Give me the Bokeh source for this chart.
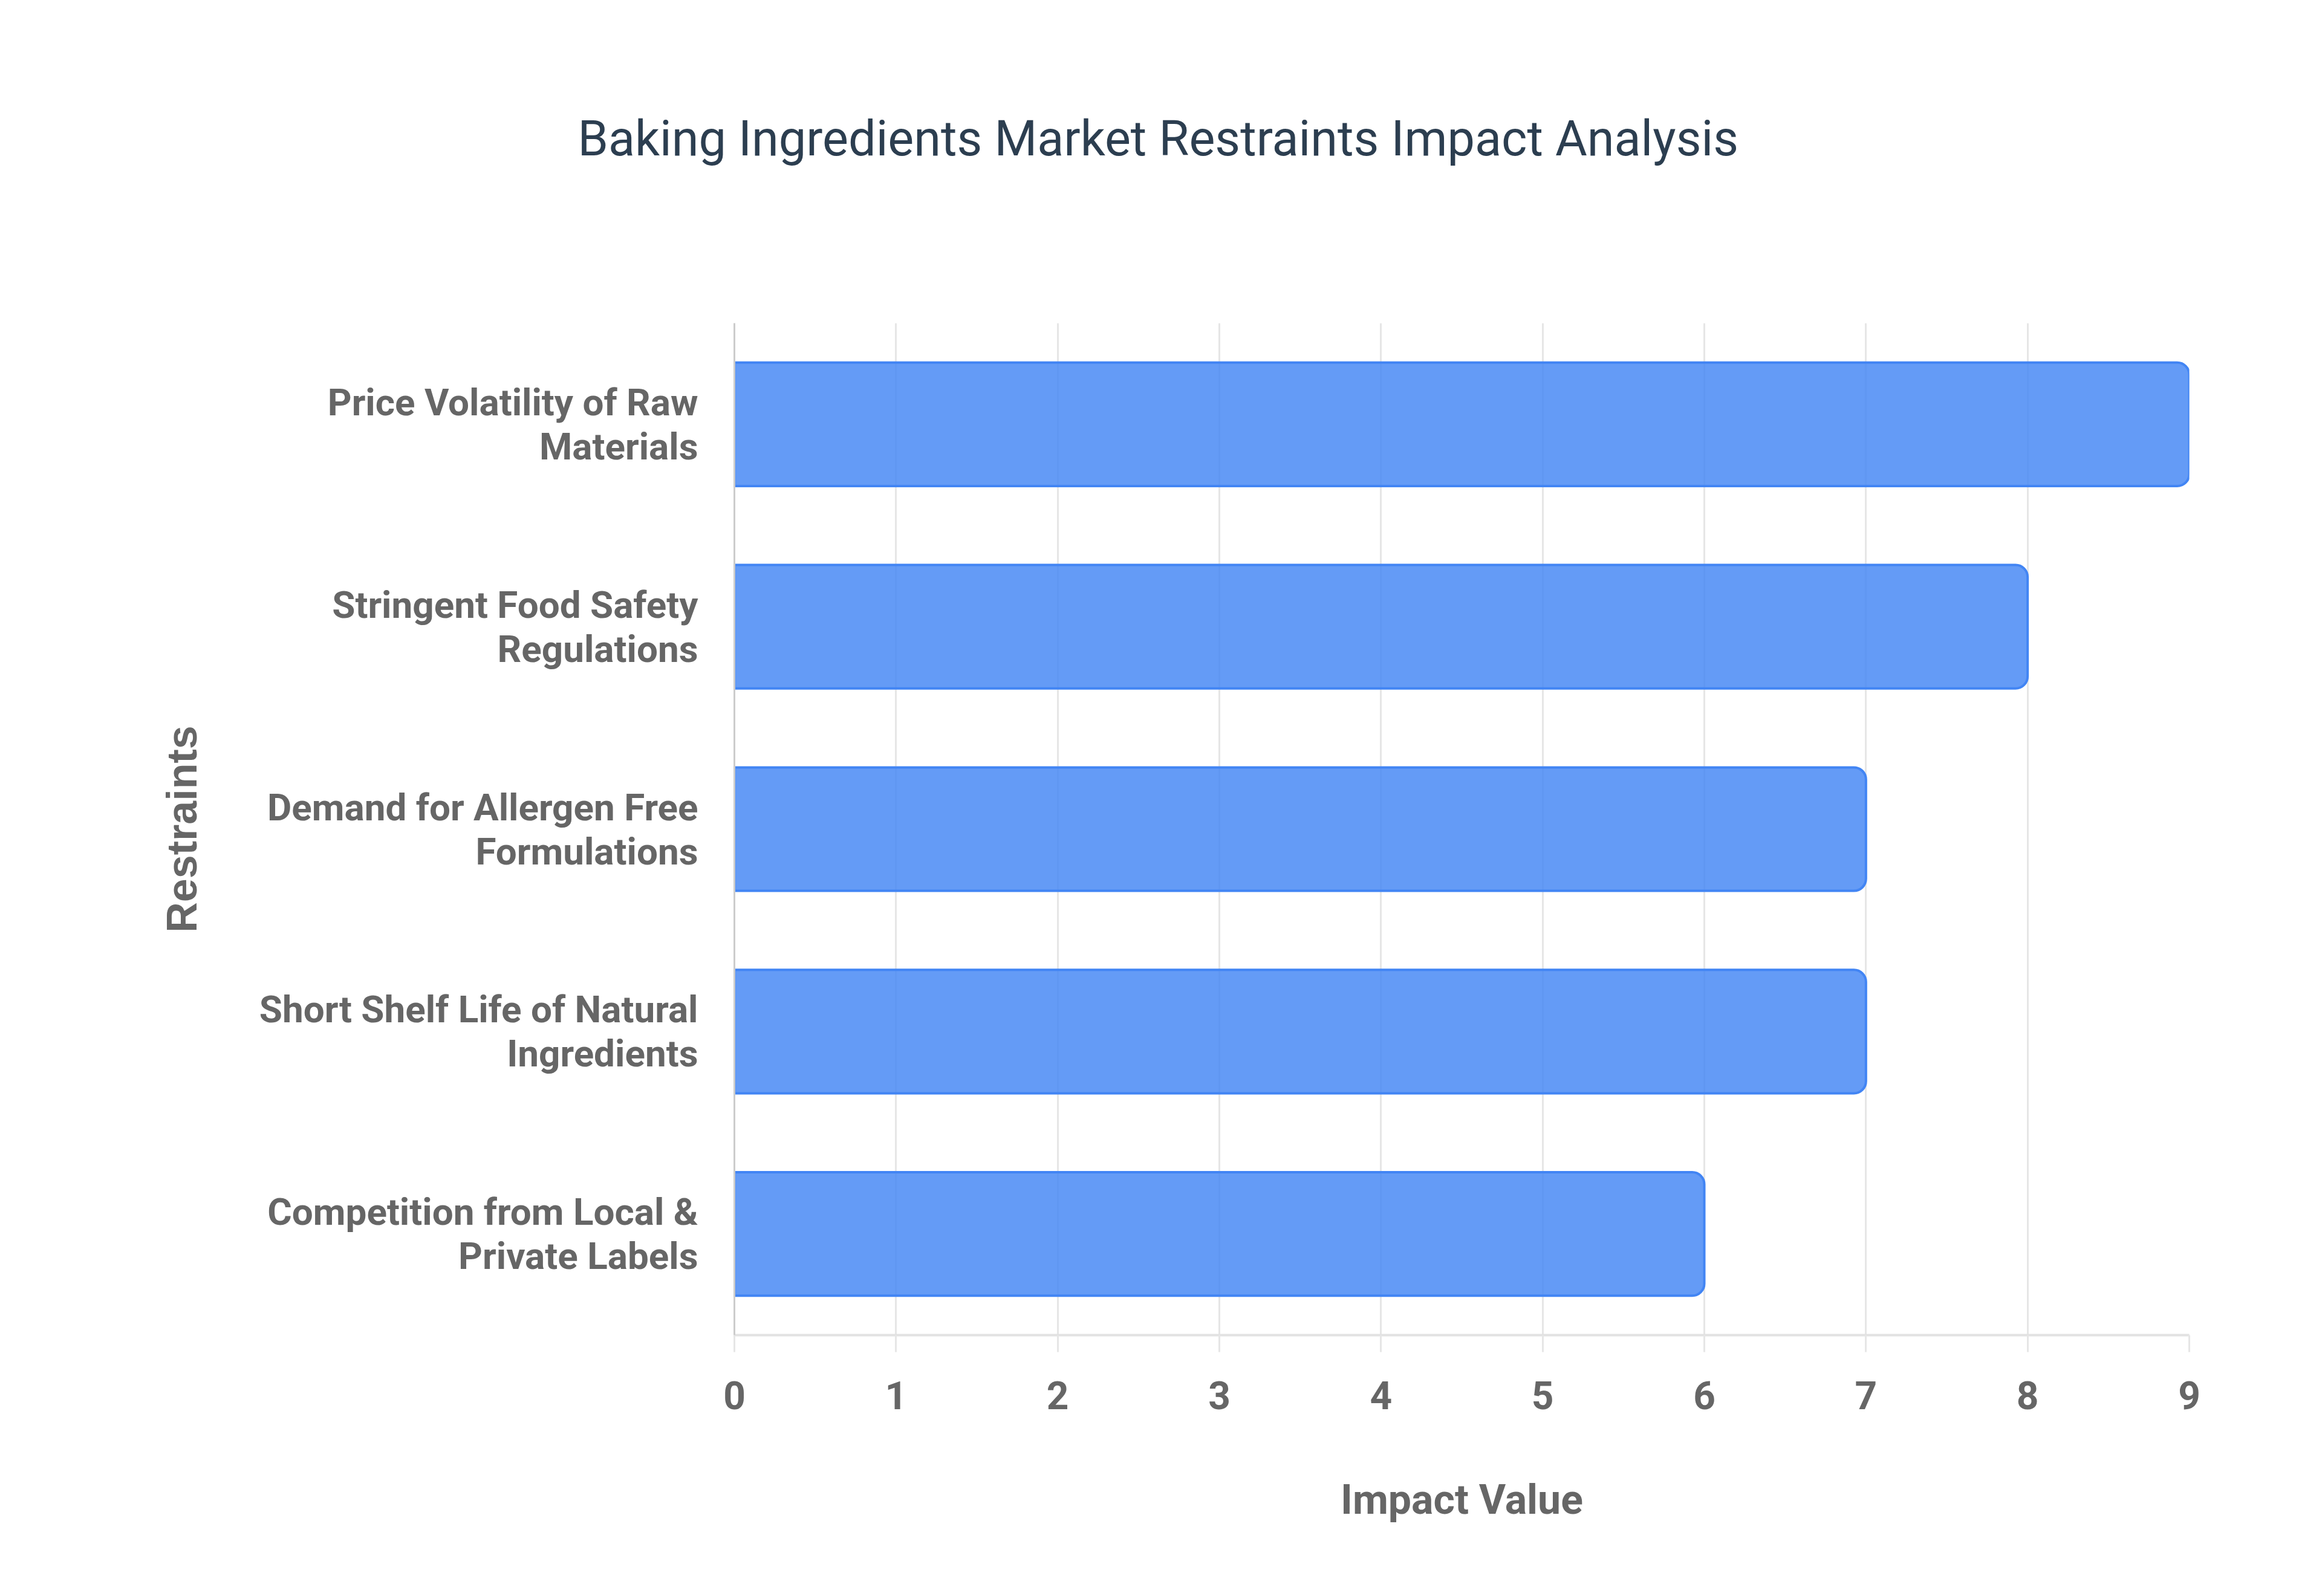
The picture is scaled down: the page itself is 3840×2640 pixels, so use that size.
from bokeh.plotting import figure
from bokeh.models import FactorRange, Range1d, SingleIntervalTicker, Title
from bokeh.embed import file_html
from bokeh.resources import INLINE

categories = [
    "Price Volatility of Raw\nMaterials",
    "Stringent Food Safety\nRegulations",
    "Demand for Allergen Free\nFormulations",
    "Short Shelf Life of Natural\nIngredients",
    "Competition from Local &\nPrivate Labels",
]
impact_values = [9, 8, 7, 7, 6]
x_ticks = [0, 1, 2, 3, 4, 5, 6, 7, 8, 9]

W, H = 3820, 2620
FL, FR, FT, FB = 1214, 3620, 534, 2208
p = figure(
    width=W, height=H,
    y_range=FactorRange(*list(reversed(categories)), range_padding=0),
    x_range=Range1d(0, 9),
    output_backend="svg", toolbar_location=None,
    min_border_left=FL, min_border_right=W - FR,
    min_border_top=FT, min_border_bottom=H - FB,
    background_fill_color="white", border_fill_color="white",
    outline_line_color=None,
)

p.hbar(y=categories, right=impact_values, left=0, height=0.61,
       fill_color="#4285F4", fill_alpha=0.82,
       line_color="#4285F4", line_width=4,
       border_radius=(0, 20, 20, 0))

# spacer between frame and title
p.add_layout(Title(text=" ", text_font_size="10px", standoff=245), "above")

# Title (centered on the whole canvas)
p.title.text = "Baking Ingredients Market Restraints Impact Analysis"
p.title.align = "left"
p.title.offset = -259
p.title.text_font = "Roboto"
p.title.text_font_style = "normal"
p.title.text_font_size = "81px"
p.title.text_color = "#2c3e50"
p.title.standoff = 0

# Grid
p.ygrid.grid_line_color = None
p.xgrid.grid_line_color = "#e6e6e6"
p.xgrid.grid_line_width = 3
p.xgrid.ticker = SingleIntervalTicker(interval=1)

# X axis
xa = p.xaxis[0]
xa.ticker = x_ticks
xa.axis_line_color = "#e2e2e2"
xa.axis_line_width = 4
xa.major_tick_line_color = "#e6e6e6"
xa.major_tick_line_width = 3
xa.major_tick_out = 28
xa.major_tick_in = 0
xa.minor_tick_line_color = None
xa.major_label_standoff = 48
xa.major_label_text_font = "Roboto"
xa.major_label_text_font_style = "bold"
xa.major_label_text_font_size = "64px"
xa.major_label_text_color = "#666666"
xa.axis_label = "Impact Value"
xa.axis_label_text_font = "Roboto"
xa.axis_label_text_font_style = "bold"
xa.axis_label_text_font_size = "68px"
xa.axis_label_text_color = "#666666"
xa.axis_label_standoff = 107

# Y axis
ya = p.yaxis[0]
ya.axis_line_color = "#cccccc"
ya.axis_line_width = 3
ya.major_tick_line_color = None
ya.major_tick_out = 0
ya.major_tick_in = 0
ya.minor_tick_line_color = None
ya.major_label_standoff = 60
ya.major_label_text_font = "Roboto"
ya.major_label_text_font_style = "bold"
ya.major_label_text_font_size = "62px"
ya.major_label_text_color = "#666666"
ya.major_label_text_align = "right"
ya.major_label_text_line_height = 1.0
ya.axis_label = "Restraints"
ya.axis_label_text_font = "Liberation Sans"
ya.axis_label_text_font_style = "bold"
ya.axis_label_text_font_size = "70px"
ya.axis_label_text_color = "#666666"
ya.axis_label_standoff = 86

open("out.html", "w").write(file_html(p, INLINE))
